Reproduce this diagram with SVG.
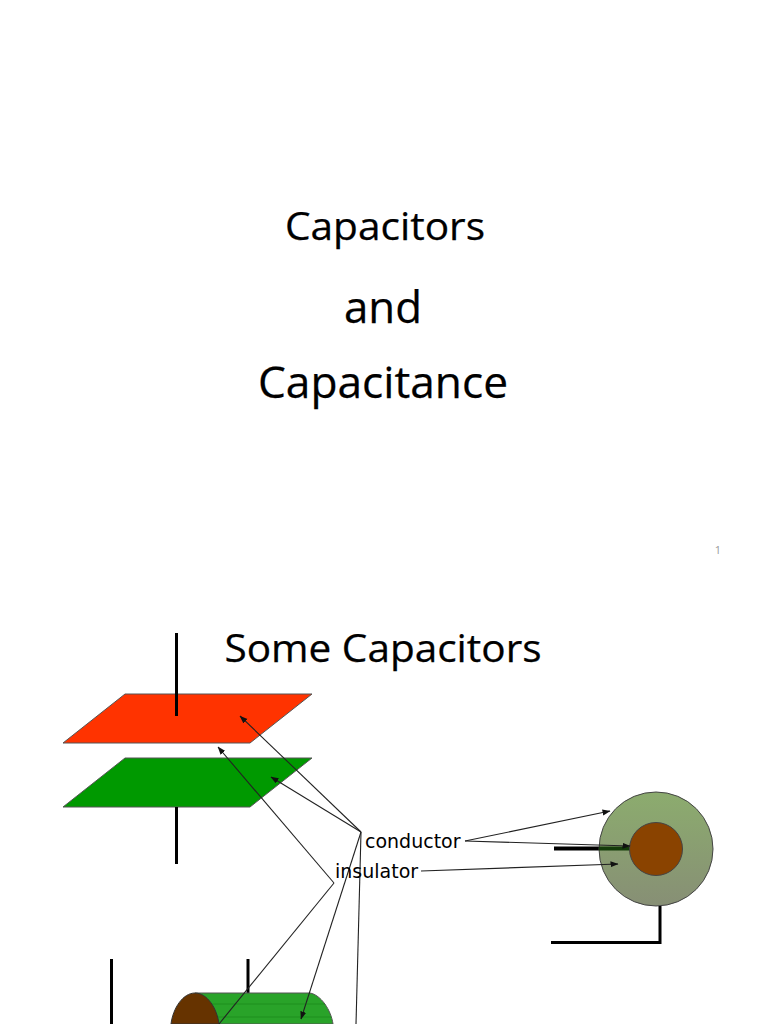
<svg xmlns="http://www.w3.org/2000/svg" width="768" height="1024" viewBox="0 0 768 1024">
<style>
.title{font-family:"Open Sans","Noto Sans","Liberation Sans",sans-serif;fill:#000;text-anchor:middle;stroke:#000;stroke-width:.25}
.label{font-family:"DejaVu Sans",sans-serif;font-size:19px;fill:#000}
.lead{stroke:#000;stroke-width:3;fill:none}
.plate{stroke:#555;stroke-width:1}
.conn{stroke:#222;stroke-width:1.1;fill:none}
</style>
<defs>
<marker id="arrow" markerUnits="userSpaceOnUse" markerWidth="8" markerHeight="7" refX="7.500" refY="3" orient="auto"><path d="M0 0L8 3L0 6z" fill="#111"/></marker>
<linearGradient id="ins" x1="0" y1="0" x2="0" y2="1"><stop offset="0" stop-color="#8cac6e"/><stop offset="1" stop-color="#878f75"/></linearGradient>
<clipPath id="cyl-body"><path d="M195 993H310C321 995 331 1010 333 1024H195Z"/></clipPath>
</defs>
<rect width="768" height="1024" fill="#fff"/>
<g id="slide-title">
<text class="title" x="385" y="240" font-size="38" textLength="200" lengthAdjust="spacingAndGlyphs">Capacitors</text>
<text class="title" x="383" y="323" font-size="43" textLength="78" lengthAdjust="spacingAndGlyphs">and</text>
<text class="title" x="383" y="398" font-size="43" textLength="250" lengthAdjust="spacingAndGlyphs">Capacitance</text>
<text x="718" y="554" font-family="Open Sans, sans-serif" font-size="11" fill="#999" text-anchor="middle">1</text>
</g>
<g id="slide2-title"><text class="title" x="383" y="662" font-size="38" textLength="317" lengthAdjust="spacingAndGlyphs">Some Capacitors</text></g>
<g id="plate-top">
<polygon class="plate" points="125,694 312,694 250,743 63,743" fill="#ff3300"/>
<line class="lead" x1="176.500" y1="633" x2="176.500" y2="716"/>
</g>
<g id="plate-bottom">
<polygon class="plate" points="125,758 312,758 250,807 63,807" fill="#009900"/>
<line class="lead" x1="176.500" y1="807" x2="176.500" y2="864"/>
</g>
<g id="cylinder">
<line class="lead" x1="111.500" y1="959" x2="111.500" y2="1024"/>
<line class="lead" x1="248" y1="959" x2="248" y2="993"/>
<path d="M195 993H310C321 995 331 1010 333 1024H195Z" fill="#29a329" stroke="#555"/>
<g clip-path="url(#cyl-body)"><path d="M200 1004H335M200 1017H335" stroke="#1f8f1f" stroke-width="1"/></g>
<path d="M171 1024C173 1008 183 993 195 993C207 993 217 1008 219 1024Z" fill="#663300" stroke="#333"/>
</g>
<g id="coax">
<line x1="554" y1="848.500" x2="600" y2="848.500" stroke="#000" stroke-width="4"/>
<circle cx="656" cy="849" r="57" fill="url(#ins)" stroke="#444"/>
<line x1="599" y1="848.500" x2="632" y2="848.500" stroke="#143c0a" stroke-width="4"/>
<circle cx="656" cy="849" r="26.500" fill="#8a4300" stroke="#444"/>
<path class="lead" d="M660 906V942.500H551"/>
</g>
<g id="connectors">
<path class="conn" marker-end="url(#arrow)" d="M361 832L240 716"/>
<path class="conn" marker-end="url(#arrow)" d="M361 832L271 777"/>
<path class="conn" marker-end="url(#arrow)" d="M361 832L301 1019"/>
<path class="conn" d="M361 832L356 1024"/>
<path class="conn" marker-end="url(#arrow)" d="M334 883L218 747"/>
<path class="conn" d="M334 883L219 1024"/>
<path class="conn" marker-end="url(#arrow)" d="M465 841L610 811"/>
<path class="conn" marker-end="url(#arrow)" d="M465 841L630 846"/>
<path class="conn" marker-end="url(#arrow)" d="M421 871L618 864"/>
</g>
<g id="labels">
<text class="label" x="365" y="848">conductor</text>
<text class="label" x="335" y="878">insulator</text>
</g>
</svg>
